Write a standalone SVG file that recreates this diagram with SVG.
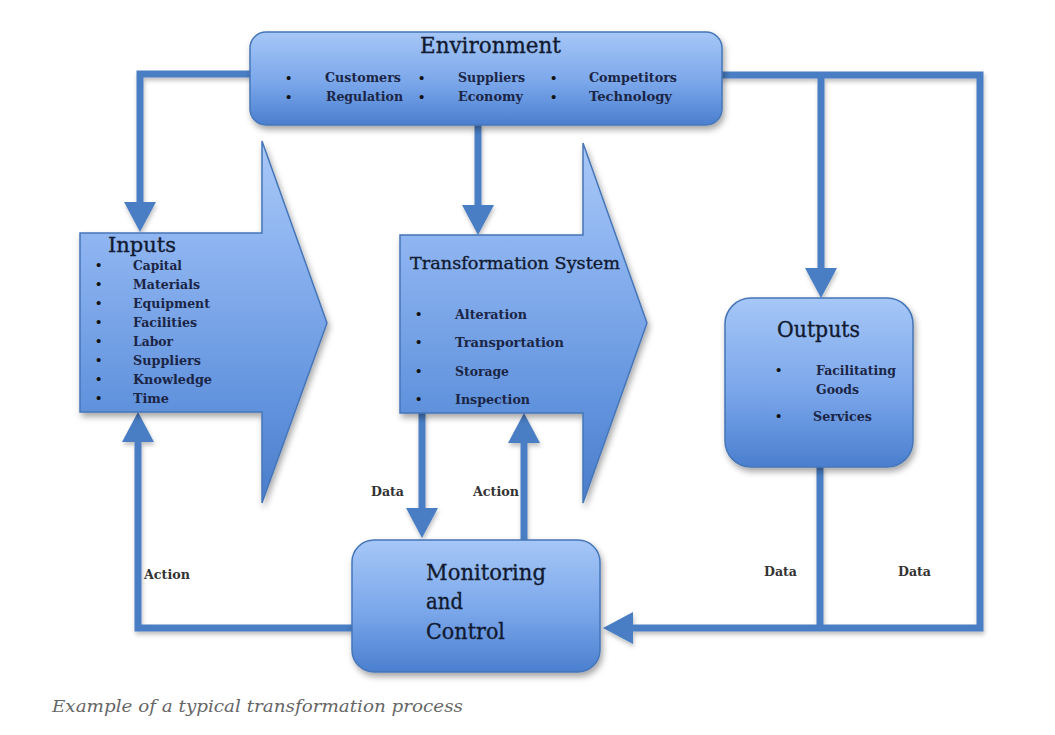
<svg xmlns="http://www.w3.org/2000/svg" width="1055" height="735" viewBox="0 0 1055 735">
<defs>
<linearGradient id="g" x1="0" y1="0" x2="0" y2="1">
<stop offset="0" stop-color="#a6c7f7"/>
<stop offset="0.55" stop-color="#7aa6ea"/>
<stop offset="1" stop-color="#4a7fcf"/>
</linearGradient>
<linearGradient id="ga" x1="0" y1="0" x2="0" y2="1">
<stop offset="0" stop-color="#a9c8f6"/>
<stop offset="0.3" stop-color="#8cb3f0"/>
<stop offset="0.75" stop-color="#5f91dc"/>
<stop offset="1" stop-color="#4a7cc9"/>
</linearGradient>
<filter id="sh" x="-10%" y="-10%" width="125%" height="130%">
<feDropShadow dx="2" dy="4" stdDeviation="3" flood-color="#000" flood-opacity="0.35"/>
</filter>
<filter id="lsh" x="-10%" y="-10%" width="125%" height="130%">
<feDropShadow dx="1" dy="3" stdDeviation="2" flood-color="#000" flood-opacity="0.25"/>
</filter>
<marker id="ah" markerUnits="userSpaceOnUse" markerWidth="32" markerHeight="32" refX="0" refY="16" orient="auto" viewBox="0 0 32 32">
<path d="M0,0 L30,16 L0,32 z" fill="#4a7ec4"/>
</marker>
<style>
.shape{fill:url(#g);stroke:#4676b8;stroke-width:1.5;filter:url(#sh)}
.arr{fill:url(#ga);stroke:#4676b8;stroke-width:1.5;filter:url(#sh)}
.ln{fill:none;stroke:#4a7ec4;stroke-width:7;stroke-linejoin:miter}
.t{font-family:"DejaVu Serif","Liberation Serif",serif;fill:#111a30;stroke:#111a30;stroke-width:0.35}
.it{font-size:13.5px;font-weight:bold;fill:#1b2545;stroke:none}
.bl{font-size:15px;font-family:"Liberation Sans",Arial,sans-serif;fill:#111}
.lb{font-family:"DejaVu Serif","Liberation Serif",serif;font-size:13px;font-weight:bold;fill:#333}
.cap{font-family:"DejaVu Serif","Liberation Serif",serif;font-size:17px;font-style:italic;fill:#666}
</style>
</defs>
<rect width="1055" height="735" fill="#fff"/>

<g id="connectors" filter="url(#lsh)">
<path class="ln" d="M252,74 H140 V202" marker-end="url(#ah)"/>
<path class="ln" d="M478,124 V205" marker-end="url(#ah)"/>
<path class="ln" d="M720,75 H980 V628 H633" marker-end="url(#ah)"/>
<path class="ln" d="M821,75 V268" marker-end="url(#ah)"/>
<path class="ln" d="M820,466 V628"/>
<path class="ln" d="M422,412 V508" marker-end="url(#ah)"/>
<path class="ln" d="M524,541 V443" marker-end="url(#ah)"/>
<path class="ln" d="M353,628 H138 V442" marker-end="url(#ah)"/>
</g>

<g id="environment">
<rect class="shape" x="250" y="32" width="472" height="93" rx="16"/>
<text class="t" x="420" y="53" font-size="22" textLength="141" lengthAdjust="spacingAndGlyphs">Environment</text>
<text class="bl" x="286" y="83">•</text>
<text class="bl" x="286" y="102">•</text>
<text class="bl" x="419" y="83">•</text>
<text class="bl" x="419" y="102">•</text>
<text class="bl" x="551" y="83">•</text>
<text class="bl" x="551" y="102">•</text>
<text class="t it" x="325" y="82" textLength="76" lengthAdjust="spacingAndGlyphs">Customers</text>
<text class="t it" x="458" y="82" textLength="67" lengthAdjust="spacingAndGlyphs">Suppliers</text>
<text class="t it" x="589" y="82" textLength="88" lengthAdjust="spacingAndGlyphs">Competitors</text>
<text class="t it" x="326" y="101" textLength="77" lengthAdjust="spacingAndGlyphs">Regulation</text>
<text class="t it" x="458" y="101" textLength="65" lengthAdjust="spacingAndGlyphs">Economy</text>
<text class="t it" x="589" y="101" textLength="83" lengthAdjust="spacingAndGlyphs">Technology</text>
</g>

<g id="inputs">
<polygon class="arr" points="80,233 262,233 262,141 327,323 262,503 262,412 80,412"/>
<text class="t" x="108" y="252" font-size="21" textLength="68" lengthAdjust="spacingAndGlyphs">Inputs</text>
<text class="bl" x="96" y="270">•</text>
<text class="bl" x="96" y="289">•</text>
<text class="bl" x="96" y="308">•</text>
<text class="bl" x="96" y="327">•</text>
<text class="bl" x="96" y="346">•</text>
<text class="bl" x="96" y="365">•</text>
<text class="bl" x="96" y="384">•</text>
<text class="bl" x="96" y="403">•</text>
<text class="t it" x="133" y="270" textLength="49" lengthAdjust="spacingAndGlyphs">Capital</text>
<text class="t it" x="133" y="289" textLength="67" lengthAdjust="spacingAndGlyphs">Materials</text>
<text class="t it" x="133" y="308" textLength="77" lengthAdjust="spacingAndGlyphs">Equipment</text>
<text class="t it" x="133" y="327" textLength="64" lengthAdjust="spacingAndGlyphs">Facilities</text>
<text class="t it" x="133" y="346" textLength="40" lengthAdjust="spacingAndGlyphs">Labor</text>
<text class="t it" x="133" y="365" textLength="68" lengthAdjust="spacingAndGlyphs">Suppliers</text>
<text class="t it" x="133" y="384" textLength="79" lengthAdjust="spacingAndGlyphs">Knowledge</text>
<text class="t it" x="133" y="403" textLength="36" lengthAdjust="spacingAndGlyphs">Time</text>
</g>

<g id="transformation">
<polygon class="arr" points="400,235 583,235 583,143 647,323 583,503 583,413 400,413"/>
<text class="t" x="410" y="269" font-size="17" textLength="210" lengthAdjust="spacingAndGlyphs">Transformation System</text>
<text class="bl" x="416" y="319">•</text>
<text class="bl" x="416" y="347">•</text>
<text class="bl" x="416" y="376">•</text>
<text class="bl" x="416" y="404">•</text>
<text class="t it" x="455" y="319" textLength="72" lengthAdjust="spacingAndGlyphs">Alteration</text>
<text class="t it" x="455" y="347" textLength="109" lengthAdjust="spacingAndGlyphs">Transportation</text>
<text class="t it" x="455" y="376" textLength="54" lengthAdjust="spacingAndGlyphs">Storage</text>
<text class="t it" x="455" y="404" textLength="75" lengthAdjust="spacingAndGlyphs">Inspection</text>
</g>

<g id="outputs">
<rect class="shape" x="725" y="298" width="188" height="169" rx="26"/>
<text class="t" x="777" y="337" font-size="22" textLength="83" lengthAdjust="spacingAndGlyphs">Outputs</text>
<text class="bl" x="776" y="375">•</text>
<text class="bl" x="776" y="421">•</text>
<text class="t it" x="816" y="375" textLength="80" lengthAdjust="spacingAndGlyphs">Facilitating</text>
<text class="t it" x="816" y="394" textLength="43" lengthAdjust="spacingAndGlyphs">Goods</text>
<text class="t it" x="813" y="421" textLength="59" lengthAdjust="spacingAndGlyphs">Services</text>
</g>

<g id="monitoring">
<rect class="shape" x="352" y="540" width="248" height="132" rx="22"/>
<text class="t" x="426" y="580" font-size="23" textLength="120" lengthAdjust="spacingAndGlyphs">Monitoring</text>
<text class="t" x="426" y="609" font-size="23" textLength="37" lengthAdjust="spacingAndGlyphs">and</text>
<text class="t" x="426" y="639" font-size="23" textLength="79" lengthAdjust="spacingAndGlyphs">Control</text>
</g>

<g id="labels">
<text class="lb" x="371" y="496" textLength="33" lengthAdjust="spacingAndGlyphs">Data</text>
<text class="lb" x="473" y="496" textLength="46" lengthAdjust="spacingAndGlyphs">Action</text>
<text class="lb" x="144" y="579" textLength="46" lengthAdjust="spacingAndGlyphs">Action</text>
<text class="lb" x="764" y="576" textLength="33" lengthAdjust="spacingAndGlyphs">Data</text>
<text class="lb" x="898" y="576" textLength="33" lengthAdjust="spacingAndGlyphs">Data</text>
</g>

<text class="cap" x="52" y="712" textLength="411" lengthAdjust="spacingAndGlyphs">Example of a typical transformation process</text>
</svg>
